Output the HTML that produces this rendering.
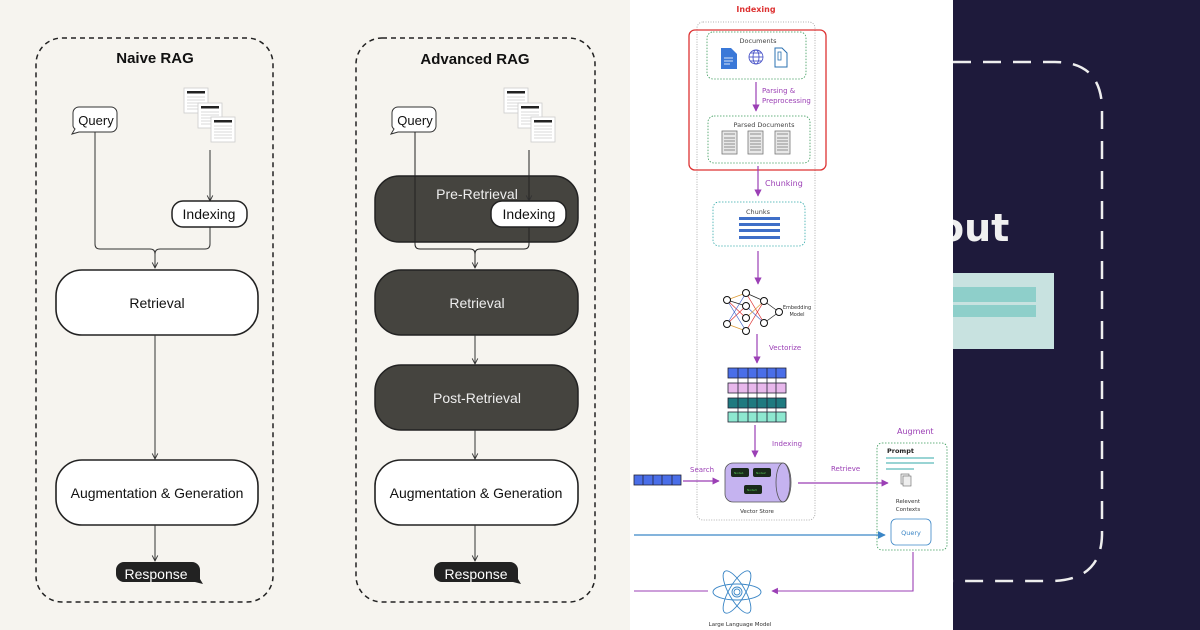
<!DOCTYPE html>
<html><head><meta charset="utf-8"><style>
html,body{margin:0;padding:0;width:1200px;height:630px;overflow:hidden;background:#f6f4ef}
svg{display:block}
.s{font-family:"Liberation Sans",sans-serif}
.h{font-family:"DejaVu Sans","Liberation Sans",sans-serif}
</style></head><body>
<svg width="1200" height="630" viewBox="0 0 1200 630" xmlns="http://www.w3.org/2000/svg">
<defs>
<clipPath id="rc"><rect x="953" y="0" width="247" height="630"/></clipPath>
<marker id="a" viewBox="0 0 10 10" refX="9" refY="5" markerWidth="7" markerHeight="7" orient="auto"><path d="M1,1 L9,5 L1,9" fill="none" stroke="#333" stroke-width="1.3"/></marker>
<marker id="p" viewBox="0 0 10 10" refX="9" refY="5" markerWidth="6" markerHeight="6" orient="auto"><path d="M0,0 L10,5 L0,10z" fill="#9b3fb5"/></marker>
<marker id="b" viewBox="0 0 10 10" refX="9" refY="5" markerWidth="6" markerHeight="6" orient="auto"><path d="M0,0 L10,5 L0,10z" fill="#3b86c6"/></marker>
<g id="doc"><rect x="0" y="0" width="24" height="25" fill="#fff" stroke="#ccc" stroke-width="0.8"/><rect x="3" y="3" width="18" height="2.5" fill="#222"/><g stroke="#ccc" stroke-width="0.7"><line x1="3" y1="9" x2="21" y2="9"/><line x1="3" y1="12" x2="21" y2="12"/><line x1="3" y1="15" x2="21" y2="15"/><line x1="3" y1="18" x2="21" y2="18"/><line x1="3" y1="21" x2="21" y2="21"/></g></g>
<g id="pd"><rect x="0" y="0" width="15" height="23" fill="#e8e8e8" stroke="#777" stroke-width="0.8"/><g stroke="#777" stroke-width="0.8"><line x1="2" y1="3" x2="13" y2="3"/><line x1="2" y1="7" x2="13" y2="7"/><line x1="2" y1="10" x2="13" y2="10"/><line x1="2" y1="13" x2="13" y2="13"/><line x1="2" y1="16" x2="13" y2="16"/><line x1="2" y1="19" x2="13" y2="19"/></g></g>
</defs>

<rect x="0" y="0" width="630" height="630" fill="#f6f4ef"/>
<rect x="36" y="38" width="237" height="564" rx="26" fill="none" stroke="#222" stroke-width="1.5" stroke-dasharray="5,4"/>
<text x="155" y="63" class="s" font-size="15" font-weight="bold" text-anchor="middle" fill="#111">Naive RAG</text>
<path d="M79,107 h32 a6,6 0 0 1 6,6 v13 a6,6 0 0 1 -6,6 h-32 l-7,2 l3,-5 a6,6 0 0 1 -2,-3 v-13 a6,6 0 0 1 6,-6z" fill="#fff" stroke="#333" stroke-width="1"/>
<text x="96" y="125" class="s" font-size="13" text-anchor="middle" fill="#111">Query</text>
<use href="#doc" x="184" y="88"/><use href="#doc" x="198" y="103"/><use href="#doc" x="211" y="117"/>
<path d="M95,132 V244 q0,5 5,5 H150 q5,0 5,5 v14" fill="none" stroke="#333" stroke-width="1" marker-end="url(#a)"/>
<path d="M210,227 V244 q0,5 -5,5 H160 q-5,0 -5,5" fill="none" stroke="#333" stroke-width="1"/>
<path d="M210,150 V201" fill="none" stroke="#333" stroke-width="1" marker-end="url(#a)"/>
<rect x="172" y="201" width="75" height="26" rx="11" fill="#fff" stroke="#222" stroke-width="1.5"/>
<text x="209" y="219" class="s" font-size="14" text-anchor="middle" fill="#111">Indexing</text>
<rect x="56" y="270" width="202" height="65" rx="26" fill="#fff" stroke="#222" stroke-width="1.6"/>
<text x="157" y="308" class="s" font-size="14" text-anchor="middle" fill="#111">Retrieval</text>
<path d="M155,335 V459" stroke="#333" stroke-width="1" marker-end="url(#a)"/>
<rect x="56" y="460" width="202" height="65" rx="26" fill="#fff" stroke="#222" stroke-width="1.6"/>
<text x="157" y="498" class="s" font-size="14" text-anchor="middle" fill="#111">Augmentation &amp; Generation</text>
<path d="M155,525 V561" stroke="#333" stroke-width="1" marker-end="url(#a)"/>
<path d="M124,562 h68 a8,8 0 0 1 8,8 v9 l3,5 l-8,-2 h-71 a8,8 0 0 1 -8,-8 v-4 a8,8 0 0 1 8,-8z" fill="#222"/>
<text x="156" y="579" class="s" font-size="14" text-anchor="middle" fill="#fff">Response</text>

<rect x="356" y="38" width="239" height="564" rx="26" fill="none" stroke="#222" stroke-width="1.5" stroke-dasharray="5,4"/>
<text x="475" y="64" class="s" font-size="15" font-weight="bold" text-anchor="middle" fill="#111">Advanced RAG</text>
<path d="M398,107 h32 a6,6 0 0 1 6,6 v13 a6,6 0 0 1 -6,6 h-32 l-7,2 l3,-5 a6,6 0 0 1 -2,-3 v-13 a6,6 0 0 1 6,-6z" fill="#fff" stroke="#333" stroke-width="1"/>
<text x="415" y="125" class="s" font-size="13" text-anchor="middle" fill="#111">Query</text>
<use href="#doc" x="504" y="88"/><use href="#doc" x="518" y="103"/><use href="#doc" x="531" y="117"/>
<rect x="375" y="176" width="203" height="66" rx="24" fill="#45443f" stroke="#222" stroke-width="1.5"/>
<text x="477" y="199" class="s" font-size="14" text-anchor="middle" fill="#eee">Pre-Retrieval</text>
<path d="M415,132 V244 q0,5 5,5 H470 q5,0 5,5 v14" fill="none" stroke="#222" stroke-width="1" marker-end="url(#a)"/>
<path d="M529,227 V244 q0,5 -5,5 H480 q-5,0 -5,5" fill="none" stroke="#222" stroke-width="1"/>
<path d="M529,150 V201" fill="none" stroke="#222" stroke-width="1" marker-end="url(#a)"/>
<rect x="491" y="201" width="75" height="26" rx="11" fill="#fff" stroke="#222" stroke-width="1.5"/>
<text x="529" y="219" class="s" font-size="14" text-anchor="middle" fill="#111">Indexing</text>
<rect x="375" y="270" width="203" height="65" rx="26" fill="#45443f" stroke="#222" stroke-width="1.5"/>
<text x="477" y="308" class="s" font-size="14" text-anchor="middle" fill="#eee">Retrieval</text>
<path d="M475,335 V364" stroke="#333" stroke-width="1" marker-end="url(#a)"/>
<rect x="375" y="365" width="203" height="65" rx="26" fill="#45443f" stroke="#222" stroke-width="1.5"/>
<text x="477" y="403" class="s" font-size="14" text-anchor="middle" fill="#eee">Post-Retrieval</text>
<path d="M475,430 V459" stroke="#333" stroke-width="1" marker-end="url(#a)"/>
<rect x="375" y="460" width="203" height="65" rx="26" fill="#fff" stroke="#222" stroke-width="1.6"/>
<text x="476" y="498" class="s" font-size="14" text-anchor="middle" fill="#111">Augmentation &amp; Generation</text>
<path d="M475,525 V561" stroke="#333" stroke-width="1" marker-end="url(#a)"/>
<path d="M442,562 h68 a8,8 0 0 1 8,8 v9 l3,5 l-8,-2 h-71 a8,8 0 0 1 -8,-8 v-4 a8,8 0 0 1 8,-8z" fill="#222"/>
<text x="476" y="579" class="s" font-size="14" text-anchor="middle" fill="#fff">Response</text>

<rect x="630" y="0" width="323" height="630" fill="#fff"/>
<text x="756" y="12" class="h" font-size="8" font-weight="bold" text-anchor="middle" fill="#d33">Indexing</text>
<rect x="697" y="22" width="118" height="498" rx="6" fill="none" stroke="#999" stroke-width="0.8" stroke-dasharray="1,1.5"/>
<rect x="689" y="30" width="137" height="140" rx="6" fill="none" stroke="#d33" stroke-width="1.3"/>
<rect x="707" y="32" width="99" height="47" rx="6" fill="none" stroke="#3a9a5a" stroke-width="0.8" stroke-dasharray="1.5,1.5"/>
<text x="758" y="43" class="h" font-size="6.5" text-anchor="middle" fill="#444">Documents</text>
<path d="M721,48 h10 l6,6 v15 h-16z" fill="#3a78d8"/><g stroke="#fff" stroke-width="0.8"><line x1="724" y1="58" x2="733" y2="58"/><line x1="724" y1="61" x2="733" y2="61"/><line x1="724" y1="64" x2="730" y2="64"/></g>
<g fill="none" stroke="#4a55c8" stroke-width="0.9"><circle cx="756" cy="57" r="7"/><ellipse cx="756" cy="57" rx="3" ry="7"/><line x1="749" y1="57" x2="763" y2="57"/><line x1="750" y1="53" x2="762" y2="53"/><line x1="750" y1="61" x2="762" y2="61"/></g>
<path d="M775,48 h7 l5,5 v14 h-12z" fill="none" stroke="#2a70b0" stroke-width="1"/><rect x="778" y="52" width="3" height="8" fill="none" stroke="#2a70b0" stroke-width="0.8"/>
<path d="M756,82 V111" stroke="#9b3fb5" stroke-width="1.2" marker-end="url(#p)"/>
<text x="762" y="93" class="h" font-size="7" fill="#9b3fb5">Parsing  &amp;</text>
<text x="762" y="103" class="h" font-size="7" fill="#9b3fb5">Preprocessing</text>
<rect x="708" y="116" width="102" height="47" rx="6" fill="none" stroke="#3a9a5a" stroke-width="0.8" stroke-dasharray="1.5,1.5"/>
<text x="764" y="127" class="h" font-size="6.5" text-anchor="middle" fill="#444">Parsed Documents</text>
<use href="#pd" x="722" y="131"/><use href="#pd" x="748" y="131"/><use href="#pd" x="775" y="131"/>
<path d="M758,166 V196" stroke="#9b3fb5" stroke-width="1.2" marker-end="url(#p)"/>
<text x="765" y="186" class="h" font-size="8" fill="#9b3fb5">Chunking</text>
<rect x="713" y="202" width="92" height="44" rx="6" fill="none" stroke="#3aa" stroke-width="0.8" stroke-dasharray="1.5,1.5"/>
<text x="758" y="214" class="h" font-size="6.5" text-anchor="middle" fill="#444">Chunks</text>
<g fill="#3f6fc8"><rect x="739" y="217" width="41" height="3"/><rect x="739" y="223" width="41" height="3"/><rect x="739" y="229" width="41" height="3"/><rect x="739" y="236" width="41" height="3"/></g>
<path d="M758,251 V284" stroke="#9b3fb5" stroke-width="1.2" marker-end="url(#p)"/>
<g stroke-width="0.7"><g stroke="#d33"><line x1="727" y1="300" x2="746" y2="318"/><line x1="727" y1="324" x2="746" y2="306"/><line x1="746" y1="293" x2="764" y2="323"/><line x1="746" y1="331" x2="764" y2="301"/></g><g stroke="#46c"><line x1="727" y1="300" x2="746" y2="331"/><line x1="727" y1="324" x2="746" y2="293"/><line x1="746" y1="306" x2="764" y2="323"/></g><g stroke="#d93"><line x1="727" y1="300" x2="746" y2="293"/><line x1="746" y1="318" x2="764" y2="301"/><line x1="727" y1="324" x2="746" y2="331"/></g><g stroke="#222"><line x1="764" y1="301" x2="779" y2="312"/><line x1="764" y1="323" x2="779" y2="312"/><line x1="727" y1="300" x2="746" y2="306"/><line x1="746" y1="293" x2="764" y2="301"/></g></g>
<g fill="#fff" stroke="#111" stroke-width="1"><circle cx="727" cy="300" r="3.5"/><circle cx="727" cy="324" r="3.5"/><circle cx="746" cy="293" r="3.5"/><circle cx="746" cy="306" r="3.5"/><circle cx="746" cy="318" r="3.5"/><circle cx="746" cy="331" r="3.5"/><circle cx="764" cy="301" r="3.5"/><circle cx="764" cy="323" r="3.5"/><circle cx="779" cy="312" r="3.5"/></g>
<text x="797" y="309" class="h" font-size="5" text-anchor="middle" fill="#333">Embedding</text>
<text x="797" y="316" class="h" font-size="5" text-anchor="middle" fill="#333">Model</text>
<path d="M757,334 V363" stroke="#9b3fb5" stroke-width="1.2" marker-end="url(#p)"/>
<text x="769" y="350" class="h" font-size="7" fill="#9b3fb5">Vectorize</text>
<g stroke="#223" stroke-width="0.8">
<rect x="728" y="368" width="58" height="10" fill="#4a6ee8"/><rect x="728" y="383" width="58" height="10" fill="#e8b8ec"/><rect x="728" y="398" width="58" height="10" fill="#1f7a80"/><rect x="728" y="412" width="58" height="10" fill="#8ee8d0"/>
<path d="M738,368v54M748,368v54M757,368v54M767,368v54M776,368v54"/></g>
<path d="M755,425 V457" stroke="#9b3fb5" stroke-width="1.2" marker-end="url(#p)"/>
<text x="772" y="446" class="h" font-size="7" fill="#9b3fb5">Indexing</text>
<path d="M733,463 h50 a8,19.5 0 0 1 0,39 h-50 a8,8 0 0 1 -8,-8 v-23 a8,8 0 0 1 8,-8z" fill="#c5b3f0" stroke="#555" stroke-width="0.8"/>
<ellipse cx="783" cy="482.5" rx="7" ry="19.5" fill="#c5b3f0" stroke="#555" stroke-width="0.8"/>
<g fill="#1a2a1a"><rect x="731" y="468" width="18" height="9" rx="2"/><rect x="753" y="468" width="18" height="9" rx="2"/><rect x="744" y="485" width="18" height="9" rx="2"/></g>
<g fill="#5c5" font-size="3" class="h"><text x="734" y="474">Node1</text><text x="756" y="474">Node2</text><text x="747" y="491">Node3</text></g>
<text x="757" y="513" class="h" font-size="5.5" text-anchor="middle" fill="#333">Vector Store</text>
<g stroke="#223" stroke-width="0.8"><rect x="634" y="475" width="47" height="10" fill="#4a6ee8"/><path d="M643,475v10M653,475v10M662,475v10M672,475v10"/></g>
<path d="M683,481 H719" stroke="#9b3fb5" stroke-width="1.2" marker-end="url(#p)"/>
<text x="690" y="472" class="h" font-size="7" fill="#9b3fb5">Search</text>
<path d="M798,483 H888" stroke="#9b3fb5" stroke-width="1.2" marker-end="url(#p)"/>
<text x="831" y="471" class="h" font-size="7" fill="#9b3fb5">Retrieve</text>
<text x="897" y="434" class="h" font-size="8" fill="#9b3fb5">Augment</text>
<rect x="877" y="443" width="70" height="107" rx="5" fill="none" stroke="#3a9a5a" stroke-width="0.8" stroke-dasharray="1.5,1.5"/>
<text x="887" y="453" class="h" font-size="6.5" font-weight="bold" fill="#222">Prompt</text>
<g stroke="#3aa" stroke-width="1"><line x1="886" y1="458" x2="934" y2="458"/><line x1="886" y1="463" x2="934" y2="463"/><line x1="886" y1="469" x2="914" y2="469"/></g>
<rect x="901" y="474" width="8" height="10" fill="#eee" stroke="#666" stroke-width="0.6"/><rect x="903" y="476" width="8" height="10" fill="#eee" stroke="#666" stroke-width="0.6"/>
<text x="908" y="503" class="h" font-size="5.5" text-anchor="middle" fill="#333">Relevent</text>
<text x="908" y="511" class="h" font-size="5.5" text-anchor="middle" fill="#333">Contexts</text>
<rect x="891" y="519" width="40" height="26" rx="5" fill="none" stroke="#3b86c6" stroke-width="0.8"/>
<text x="911" y="535" class="h" font-size="6.5" text-anchor="middle" fill="#3b86c6">Query</text>
<path d="M634,535 H885" stroke="#3b86c6" stroke-width="1.3" marker-end="url(#b)"/>
<path d="M913,552 V591 H772" fill="none" stroke="#9b3fb5" stroke-width="1.1" marker-end="url(#p)"/>
<path d="M634,591 H708" stroke="#9b3fb5" stroke-width="1.1"/>
<g fill="none" stroke="#3b86c6" stroke-width="0.9"><ellipse cx="737" cy="592" rx="24" ry="8"/><ellipse cx="737" cy="592" rx="24" ry="8" transform="rotate(60 737 592)"/><ellipse cx="737" cy="592" rx="24" ry="8" transform="rotate(-60 737 592)"/><circle cx="737" cy="592" r="5"/><circle cx="737" cy="592" r="3"/></g>
<text x="740" y="626" class="h" font-size="5.5" text-anchor="middle" fill="#333">Large Language Model</text>

<rect x="953" y="0" width="247" height="630" fill="#1e1a3b"/>
<g clip-path="url(#rc)">
<path d="M953,62 H1055 Q1101,62 1102,108 V535 Q1101,581 1050,581 H953" fill="none" stroke="#eee" stroke-width="2.5" stroke-dasharray="18,12"/>
<text x="938" y="241" class="h" font-size="38" font-weight="bold" fill="#f0f0f0">out</text>
<rect x="953" y="273" width="101" height="76" fill="#c8e2e0"/>
<rect x="953" y="287" width="83" height="15" fill="#8ecfca"/>
<rect x="953" y="305" width="83" height="12" fill="#8ecfca"/>
</g>
</svg>
</body></html>
